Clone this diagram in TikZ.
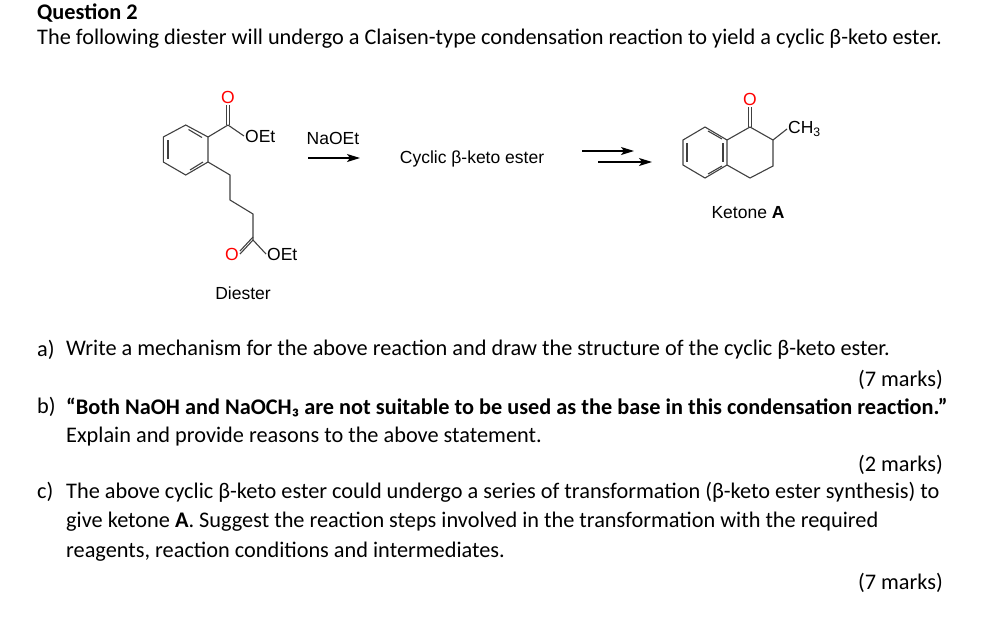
\documentclass[tikz,border=0pt]{standalone}
\usepackage{fontspec}
\usetikzlibrary{calc,arrows.meta}
\setmainfont{Carlito}
\newfontfamily\arialf{Liberation Sans}
\begin{document}
\begin{tikzpicture}[x=1pt,y=-1pt,
  bond/.style={line width=1.1pt,black!75},
  lab/.style={font=\arialf\fontsize{17.5}{20}\selectfont,inner sep=1pt},
  ox/.style={lab,text=red},
  txt/.style={font=\fontsize{22.3}{26}\selectfont,anchor=west,inner sep=0pt},
  mk/.style={font=\fontsize{22.3}{26}\selectfont,anchor=east,inner sep=0pt},
  arr/.style={line width=1.4pt,-{Stealth[length=13pt,width=8pt,inset=3pt]}}]
\useasboundingbox (0,0) rectangle (981,625);
\node[txt,font=\bfseries\fontsize{22.3}{26}\selectfont] (q) at (37,13) {Question 2};
\node[txt] (intro) at (37,39) {The following diester will undergo a Claisen-type condensation reaction to yield a cyclic β-keto ester.};
% diester
\coordinate (a1) at (185.7,125); \coordinate (a2) at (208,137); \coordinate (a3) at (208,162);
\coordinate (a4) at (185.7,175); \coordinate (a5) at (163.3,162); \coordinate (a6) at (163.3,137);
\draw[bond] (a1)--(a2)--(a3)--(a4)--(a5)--(a6)--cycle;
\draw[bond] (188.5,129.5) -- (202,137.5);
\draw[bond] (190,170) -- (203,162);
\draw[bond] (168,140) -- (168,159);
\coordinate (c1) at (228,125);
\node[ox] (o1) at (228,97) {O};
\node[lab,anchor=west] (oe1) at (244,136) {OEt};
\draw[bond] (a2)--(c1);
\draw[bond] (226.5,125)--(226.5,105); \draw[bond] (229.5,125)--(229.5,105);
\draw[bond] (c1)--(oe1.west);
\coordinate (b1) at (230,175); \coordinate (b2) at (230,200); \coordinate (b3) at (253,214); \coordinate (c2) at (253,240);
\draw[bond] (a3)--(b1)--(b2)--(b3)--(c2);
\node[ox] (o2) at (232,254) {O};
\node[lab,anchor=west] (oe2) at (266,254) {OEt};
\draw[bond] (c2)--(oe2.west);
\draw[bond] (c2)--(o2.east); \draw[bond] ($(c2)+(0,-3)$)--($(o2.east)+(0,-3)$);
\node[lab] (dl) at (243,293) {Diester};
% arrow 1
\node[lab] (na) at (333,138) {NaOEt};
\coordinate (r1s) at (308,158); \coordinate (r1e) at (360,158);
\draw[arr] (r1s)--(r1e);
\node[lab] (cb) at (472,159) {Cyclic β-keto ester};
\coordinate (d1s) at (582,151); \coordinate (d1e) at (634,151);
\coordinate (d2s) at (598,162); \coordinate (d2e) at (652,162);
\draw[arr] (d1s)--(d1e); \draw[arr] (d2s)--(d2e);
% ketone
\coordinate (k1) at (705,127); \coordinate (k2) at (727,140); \coordinate (k3) at (727,165);
\coordinate (k4) at (705,178); \coordinate (k5) at (683,165); \coordinate (k6) at (683,140);
\coordinate (k7) at (750,127); \coordinate (k8) at (773,140); \coordinate (k9) at (773,166); \coordinate (k10) at (750,178);
\draw[bond] (k1)--(k2)--(k3)--(k4)--(k5)--(k6)--cycle;
\draw[bond] (k2)--(k7)--(k8)--(k9)--(k10)--(k3);
\draw[bond] (687,143)--(687,162);
\draw[bond] (708,131)--(722,139);
\draw[bond] (708,174)--(722,166);
\draw[bond] (723,143)--(723,162);
\node[ox] (o3) at (750,99) {O};
\draw[bond] (748.5,127)--(748.5,107); \draw[bond] (751.5,127)--(751.5,107);
\node[lab,anchor=west] (ch) at (787,129) {CH\textsubscript{3}};
\draw[bond] (k8)--(ch.west);
\node[lab] (ka) at (748,213) {Ketone \textbf{A}};
% questions
\node[txt] (qa) at (66,350) {Write a mechanism for the above reaction and draw the structure of the cyclic β-keto ester.};
\node[txt] (la) at (37,350) {a)};
\node[mk] (m1) at (943,380) {(7 marks)};
\node[txt] (lb) at (37,407) {b)};
\node[txt] (qb) at (66,407) {\textbf{“Both NaOH and NaOCH₃ are not suitable to be used as the base in this condensation reaction.”}};
\node[txt] (qb2) at (66,437) {Explain and provide reasons to the above statement.};
\node[mk] (m2) at (943,465) {(2 marks)};
\node[txt] (lc) at (37,492) {c)};
\node[txt] (qc) at (66,492) {The above cyclic β-keto ester could undergo a series of transformation (β-keto ester synthesis) to};
\node[txt] (qc2) at (66,522) {give ketone \textbf{A}. Suggest the reaction steps involved in the transformation with the required};
\node[txt] (qc3) at (66,552) {reagents, reaction conditions and intermediates.};
\node[mk] (m3) at (943,583) {(7 marks)};
\end{tikzpicture}
\end{document}
